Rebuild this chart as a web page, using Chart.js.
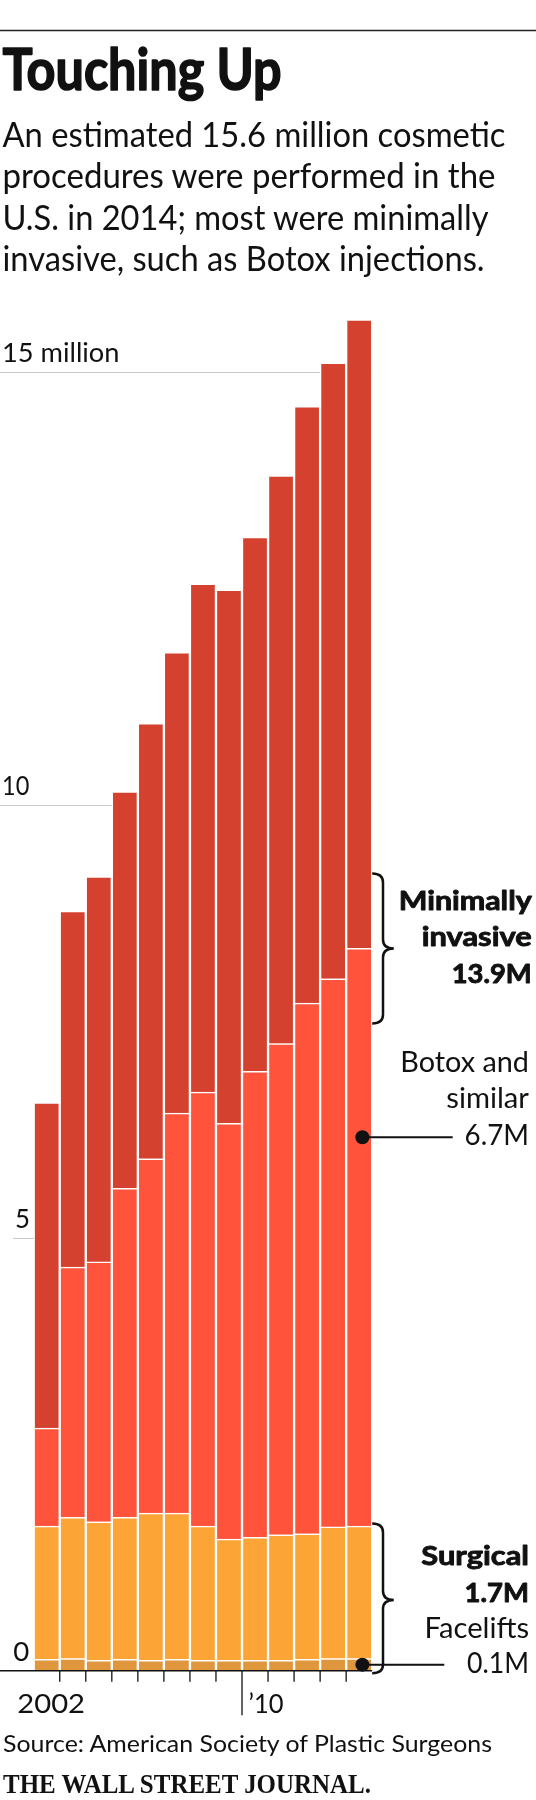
<!DOCTYPE html>
<html>
<head>
<meta charset="utf-8">
<script src="https://cdn.jsdelivr.net/npm/chart.js@4"></script>
<style>
  html, body { margin: 0; padding: 0; background: #fff; }
  body { width: 536px; height: 1800px; position: relative; overflow: hidden; }
  #chart { position: absolute; left: 0; top: 0; }
  #txt { position: absolute; left: 0; top: 0; }
  .sans { font-family: Lato, "Noto Sans", sans-serif; fill: #111; }
  .serif { font-family: "Liberation Serif", "DejaVu Serif", serif; fill: #111; }
</style>
</head>
<body>
<canvas id="chart" width="536" height="1800"></canvas>
<svg id="txt" width="536" height="1800" xmlns="http://www.w3.org/2000/svg">
  <line x1="0" y1="30.5" x2="536" y2="30.5" stroke="#222" stroke-width="1.5"/>
  <text class="sans" x="2.5" y="90" font-size="57" font-weight="bold" stroke="#111" stroke-width="1.6" stroke-linejoin="round" textLength="279" lengthAdjust="spacingAndGlyphs">Touching Up</text>
  <text class="sans" x="2.5" y="146.7" font-size="34" textLength="503" lengthAdjust="spacingAndGlyphs">An estimated 15.6 million cosmetic</text>
  <text class="sans" x="2.5" y="188.3" font-size="34" textLength="493" lengthAdjust="spacingAndGlyphs">procedures were performed in the</text>
  <text class="sans" x="2.5" y="230" font-size="34" textLength="486" lengthAdjust="spacingAndGlyphs">U.S. in 2014; most were minimally</text>
  <text class="sans" x="2.5" y="270.5" font-size="34" textLength="482" lengthAdjust="spacingAndGlyphs">invasive, such as Botox injections.</text>
  <text class="sans" x="3" y="1751.7" font-size="24" textLength="489" lengthAdjust="spacingAndGlyphs">Source: American Society of Plastic Surgeons</text>
  <text class="serif" x="3" y="1793.3" font-size="27" font-weight="bold" textLength="368" lengthAdjust="spacingAndGlyphs">THE WALL STREET JOURNAL.</text>
</svg>
<script>
// ---------------- DATA ----------------
const years = ['2002','2003','2004','2005','2006','2007','2008','2009','2010','2011','2012','2013','2014'];
const xTickLabels = ['2002','','','','','','','','\u201910','','','',''];
// millions of procedures, stacked bottom -> top
const facelifts     = [0.13,0.14,0.12,0.13,0.12,0.13,0.12,0.12,0.12,0.12,0.13,0.14,0.14];
const otherSurgical = [1.54,1.63,1.60,1.64,1.70,1.69,1.55,1.40,1.42,1.45,1.45,1.52,1.53];
const botoxSimilar  = [1.13,2.89,3.00,3.80,4.09,4.62,5.01,4.80,5.38,5.67,6.13,6.33,6.67];
const otherMinimal  = [3.76,4.11,4.45,4.58,5.03,5.32,5.87,6.16,6.17,6.56,6.89,7.11,7.26];
const yTickValues = [0, 5, 10, 15];
const yTickLabels = ['0', '5', '10', '15 million'];

// ---------------- STYLE / LAYOUT ----------------
const COLORS = { facelifts:'#e0963c', otherSurgical:'#fca435', botox:'#ff533b', otherMinimal:'#d4412f' };
const SANS = 'Lato, "Noto Sans", sans-serif';
// y tick label layout: [left x, width]
const yLabelLayout = [[13.3,16],[15,15],[2,27.3],[2,117.5]];
const gridStart = [0, 13, 0, 0];
const BOTOX_DOT_VALUE = 6.16;

function fitText(ctx, text, x, y, w, font, align, heavy) {
  ctx.font = font;
  const nw = ctx.measureText(text).width || 1;
  const sx = w / nw;
  const left = align === 'right' ? x - w : x;
  ctx.save();
  ctx.translate(left, y);
  ctx.scale(sx, 1);
  ctx.textAlign = 'left';
  ctx.textBaseline = 'alphabetic';
  ctx.fillStyle = '#111';
  ctx.fillText(text, 0, 0);
  if (heavy) {
    ctx.strokeStyle = '#111';
    ctx.lineWidth = 0.9;
    ctx.lineJoin = 'round';
    ctx.strokeText(text, 0, 0);
  }
  ctx.restore();
}

function brace(ctx, x0, x1, yTop, yMid, yBot) {
  const xm = x0 + (x1 - x0) * 0.5;
  const r = 9;
  ctx.beginPath();
  ctx.moveTo(x0, yTop);
  ctx.quadraticCurveTo(xm, yTop, xm, yTop + r);
  ctx.lineTo(xm, yMid - r);
  ctx.quadraticCurveTo(xm, yMid, x1, yMid);
  ctx.quadraticCurveTo(xm, yMid, xm, yMid + r);
  ctx.lineTo(xm, yBot - r);
  ctx.quadraticCurveTo(xm, yBot, x0, yBot);
  ctx.lineWidth = 2.5;
  ctx.strokeStyle = '#111';
  ctx.stroke();
}

const decor = {
  id: 'decor',
  beforeDatasetsDraw(chart) {
    const ctx = chart.ctx, y = chart.scales.y, area = chart.chartArea;
    ctx.save();
    ctx.strokeStyle = '#c9c9c9';
    ctx.lineWidth = 1;
    yTickValues.forEach((v, i) => {
      if (v === 0) return;
      const py = Math.round(y.getPixelForValue(v)) + 0.5;
      ctx.beginPath();
      ctx.moveTo(gridStart[i], py);
      ctx.lineTo(area.right, py);
      ctx.stroke();
    });
    ctx.restore();
  },
  afterDatasetsDraw(chart) {
    const ctx = chart.ctx, x = chart.scales.x, y = chart.scales.y, area = chart.chartArea;
    const y0 = y.getPixelForValue(0);
    ctx.save();
    // baseline
    ctx.strokeStyle = '#111';
    ctx.lineWidth = 1.6;
    ctx.beginPath(); ctx.moveTo(0, y0); ctx.lineTo(area.right, y0); ctx.stroke();
    // ticks at category boundaries
    ctx.lineWidth = 1.3;
    for (let k = 1; k < years.length; k++) {
      const bx = (x.getPixelForValue(k - 1) + x.getPixelForValue(k)) / 2;
      const long = xTickLabels[k] !== '';
      ctx.beginPath();
      ctx.moveTo(bx, y0);
      ctx.lineTo(bx, y0 + (long ? 44.5 : 11));
      ctx.stroke();
    }
    // x labels
    const xFont = '26.5px ' + SANS;
    fitText(ctx, xTickLabels[0], x.getPixelForValue(0) - 29.4, y0 + 42.6, 67.7, xFont, 'left');
    const b8 = (x.getPixelForValue(7) + x.getPixelForValue(8)) / 2;
    fitText(ctx, xTickLabels[8], b8 + 6.6, y0 + 42.6, 35, xFont, 'left');
    // y labels
    yTickValues.forEach((v, i) => {
      const py = y.getPixelForValue(v);
      fitText(ctx, yTickLabels[i], yLabelLayout[i][0], py - 9.8, yLabelLayout[i][1], '26.5px ' + SANS, 'left');
    });
    // annotations
    const last = years.length - 1;
    const surgTop = facelifts[last] + otherSurgical[last];
    const redTop = surgTop + botoxSimilar[last];
    const right = area.right;
    brace(ctx, right, right + 21.6, y.getPixelForValue(redTop) - 75, y.getPixelForValue(redTop), y.getPixelForValue(redTop) + 75);
    brace(ctx, right, right + 21.6, y.getPixelForValue(surgTop) - 2.5, (y.getPixelForValue(surgTop) + y0) / 2 + 1.5, y0 + 2.6);
    // dots + leaders
    const dx = x.getPixelForValue(last) + 3.2;
    const dyB = y.getPixelForValue(BOTOX_DOT_VALUE);
    const dyF = y.getPixelForValue(facelifts[last] / 2);
    ctx.strokeStyle = '#111'; ctx.fillStyle = '#111'; ctx.lineWidth = 2;
    ctx.beginPath(); ctx.moveTo(dx, dyB); ctx.lineTo(452.7, dyB); ctx.stroke();
    ctx.beginPath(); ctx.moveTo(dx, dyF); ctx.lineTo(444.3, dyF); ctx.stroke();
    ctx.beginPath(); ctx.arc(dx, dyB, 7, 0, Math.PI * 2); ctx.fill();
    ctx.beginPath(); ctx.arc(dx, dyF, 7, 0, Math.PI * 2); ctx.fill();
    // annotation text
    const B = 'bold 27px ' + SANS, R = '28px ' + SANS;
    const notes = [
      ['Minimally', B, 531.7, 910, 133, true],
      ['invasive', B, 531.7, 945.5, 110, true],
      ['13.9M', B, 531.7, 983.3, 80, true],
      ['Botox and', R, 529, 1071.7, 128.7, false],
      ['similar', R, 529, 1108.3, 82.7, false],
      ['6.7M', R, 529, 1144.5, 64.4, false],
      ['Surgical', B, 529, 1565, 107.7, true],
      ['1.7M', B, 529, 1601.7, 64.4, true],
      ['Facelifts', R, 529, 1638.3, 104.4, false],
      ['0.1M', R, 529, 1673.3, 62, false]
    ];
    notes.forEach(n => fitText(ctx, n[0], n[2], n[3], n[4], n[1], 'right', n[5]));
    ctx.restore();
  }
};

const ds = (label, data, color) => ({
  label, data, backgroundColor: color, borderColor: '#ffffff', borderWidth: 1.5,
  borderSkipped: 'start', categoryPercentage: 1, barPercentage: 1
});

new Chart(document.getElementById('chart'), {
  type: 'bar',
  data: {
    labels: years,
    datasets: [
      ds('Facelifts', facelifts, COLORS.facelifts),
      ds('Other surgical', otherSurgical, COLORS.otherSurgical),
      ds('Botox and similar', botoxSimilar, COLORS.botox),
      ds('Other minimally invasive', otherMinimal, COLORS.otherMinimal)
    ]
  },
  options: {
    responsive: false,
    animation: false,
    events: [],
    layout: { padding: { left: 33.7, right: 163.8, top: 285, bottom: 129.3 } },
    plugins: { legend: { display: false }, tooltip: { enabled: false }, title: { display: false } },
    scales: {
      x: { stacked: true, display: false, offset: true },
      y: { stacked: true, display: false, min: 0, max: 16 }
    }
  },
  plugins: [decor]
});
</script>
</body>
</html>
